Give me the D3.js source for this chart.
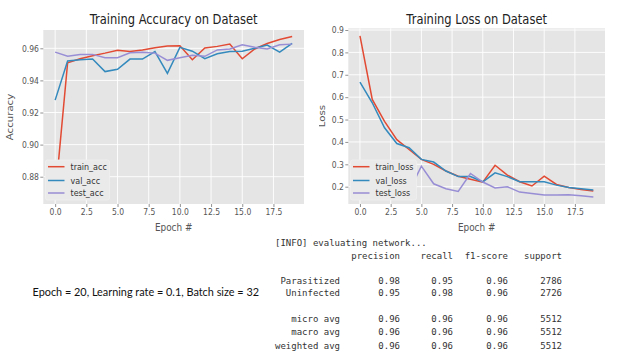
<!DOCTYPE html>
<html><head><meta charset="utf-8">
<script src="https://cdn.jsdelivr.net/npm/d3@7"></script>
<style>body{margin:0;background:#fff}svg{display:block}</style>
</head><body>
<svg id="c" width="638" height="359"></svg>
<script>
// ---------- data ----------
const epochs = [0,1,2,3,4,5,6,7,8,9,10,11,12,13,14,15,16,17,18,19];
const trainAcc = [0.867,0.951,0.9535,0.9554,0.957,0.9588,0.958,0.959,0.9604,0.9614,0.9616,0.9529,0.9602,0.9612,0.9626,0.9535,0.9596,0.963,0.9655,0.9673];
const valAcc   = [0.9277,0.9521,0.9529,0.9533,0.9455,0.9469,0.9533,0.9533,0.958,0.9444,0.9606,0.9582,0.9535,0.9566,0.958,0.9582,0.96,0.962,0.9576,0.963];
const testAcc  = [0.9576,0.955,0.9562,0.9562,0.9541,0.9541,0.9572,0.9576,0.957,0.9525,0.9541,0.9556,0.955,0.959,0.9596,0.9622,0.9606,0.9596,0.9622,0.9626];
const trainLoss = [0.874,0.59,0.492,0.41,0.366,0.322,0.30,0.27,0.247,0.233,0.22,0.296,0.252,0.222,0.203,0.247,0.21,0.196,0.188,0.181];
const valLoss   = [0.667,0.575,0.463,0.393,0.374,0.322,0.31,0.27,0.245,0.245,0.222,0.262,0.245,0.222,0.222,0.222,0.207,0.196,0.191,0.185];
const testLoss  = [0.23,0.21,0.2,0.19,0.18,0.292,0.213,0.191,0.179,0.259,0.221,0.194,0.2,0.176,0.17,0.163,0.163,0.164,0.16,0.154];
const xTicks = [0,2.5,5,7.5,10,12.5,15,17.5];
const accTicks = [0.88,0.90,0.92,0.94,0.96];
const lossTicks = [0.2,0.3,0.4,0.5,0.6,0.7,0.8,0.9];
const accNames = ["train_acc","val_acc","test_acc"];
const lossNames = ["train_loss","val_loss","test_loss"];
const colors = ["#E24A33","#348ABD","#988ED5"];

const reportTitle = "[INFO] evaluating network...";
const reportCols = ["precision","recall","f1-score","support"];
const reportRows = ["Parasitized","Uninfected","micro avg","macro avg","weighted avg"];
const precisionVals = ["0.98","0.95","0.96","0.96","0.96"];
const recallVals    = ["0.95","0.98","0.96","0.96","0.96"];
const f1Vals        = ["0.96","0.96","0.96","0.96","0.96"];
const supportVals   = ["2786","2726","5512","5512","5512"];
const noteText = "Epoch = 20, Learning rate = 0.1, Batch size = 32";

// ---------- drawing ----------
const svg = d3.select("#c");
const SX = 0.87;
const FONT = "DejaVu Sans, sans-serif";
const defs = svg.append("defs");
defs.append("clipPath").attr("id","rclip").append("rect").attr("x",319).attr("y",0).attr("width",320).attr("height",359);

function panel(cfg){
  const g = svg.append("g").attr("clip-path", cfg.clip ? "url(#rclip)" : null);
  const x = d3.scaleLinear().domain([-0.95,19.95]).range([cfg.x0,cfg.x1]);
  const y = d3.scaleLinear().domain(cfg.yDomain).range([204,cfg.yTop]);
  g.append("rect").attr("x",cfg.x0).attr("y",cfg.yTop).attr("width",cfg.x1-cfg.x0).attr("height",204-cfg.yTop).attr("fill","#E5E5E5");
  g.selectAll(".vg").data(xTicks).join("line").attr("x1",d=>x(d)).attr("x2",d=>x(d)).attr("y1",cfg.yTop).attr("y2",204).attr("stroke","#fff").attr("stroke-width",0.9);
  g.selectAll(".hg").data(cfg.yTicks).join("line").attr("y1",d=>y(d)).attr("y2",d=>y(d)).attr("x1",cfg.x0).attr("x2",cfg.x1).attr("stroke","#fff").attr("stroke-width",0.9);

  const ax = g.append("g").attr("transform","translate(0,204)")
    .call(d3.axisBottom(x).tickValues(xTicks).tickFormat(d3.format(".1f")).tickSize(3).tickPadding(2));
  const ay = g.append("g").attr("transform",`translate(${cfg.x0},0)`)
    .call(d3.axisLeft(y).tickValues(cfg.yTicks).tickFormat(cfg.yFmt).tickSize(3).tickPadding(2));
  [ax,ay].forEach(a=>{
    a.select(".domain").remove();
    a.selectAll(".tick line").attr("stroke","#777").attr("stroke-width",0.8);
    a.selectAll(".tick text").attr("fill","#555").attr("font-size","8.8px").attr("font-family",FONT)
      .attr("transform",`scale(${SX},1)`);
  });

  const line = d3.line().x((d,i)=>x(epochs[i])).y(d=>y(d));
  cfg.series.forEach((s,k)=>{
    g.append("path").datum(s).attr("d",line).attr("fill","none").attr("stroke",colors[k]).attr("stroke-width",1.5);
  });

  // legend
  const lg = g.append("g");
  lg.append("rect").attr("x",cfg.lx).attr("y",160).attr("width",cfg.lw).attr("height",40).attr("rx",2)
    .attr("fill","#EAEAEA").attr("stroke","#F0F0F0").attr("stroke-width",0.8);
  const ly = [166.7,180.5,193];
  cfg.names.forEach((n,k)=>{
    lg.append("line").attr("x1",cfg.lx+2.5).attr("x2",cfg.lx+19).attr("y1",ly[k]).attr("y2",ly[k]).attr("stroke",colors[k]).attr("stroke-width",1.5);
    lg.append("text").attr("transform",`translate(${cfg.lx+25},${ly[k]+3.2}) scale(${SX},1)`)
      .attr("font-family",FONT).attr("font-size","9.2px").attr("fill","#333").text(n);
  });

  const cx = (cfg.x0+cfg.x1)/2;
  g.append("text").attr("transform",`translate(${cx},24) scale(${SX},1)`).attr("text-anchor","middle")
    .attr("font-family",FONT).attr("font-size","13.2px").attr("fill","#222").text(cfg.title);
  g.append("text").attr("transform",`translate(${cx},231) scale(${SX},1)`).attr("text-anchor","middle")
    .attr("font-family",FONT).attr("font-size","10.2px").attr("fill","#555").text("Epoch #");
  g.append("text").attr("transform",`translate(${cfg.ylx},${(cfg.yTop+204)/2}) rotate(-90) scale(1,${SX})`).attr("text-anchor","middle")
    .attr("dy","0.35em").attr("font-family",FONT).attr("font-size","10.2px").attr("fill","#555").text(cfg.ylabel);
}

panel({x0:43.3,x1:304,yTop:30,yDomain:[0.863,0.9714],yTicks:accTicks,yFmt:d3.format(".2f"),
  series:[trainAcc,valAcc,testAcc],names:accNames,lx:45.5,lw:64,title:"Training Accuracy on Dataset",ylabel:"Accuracy",ylx:10});
panel({x0:348.3,x1:605,yTop:28.3,yDomain:[0.1227,0.9076],yTicks:lossTicks,yFmt:d3.format(".1f"),
  series:[trainLoss,valLoss,testLoss],names:lossNames,lx:350.5,lw:66,title:"Training Loss on Dataset",ylabel:"Loss",ylx:321.5,clip:true});

// classification report
const MONO = "DejaVu Sans Mono, Liberation Mono, monospace";
const rep = svg.append("g").attr("font-family",MONO).attr("font-size","9px").attr("fill","#333");
rep.append("text").attr("x",275).attr("y",246).text(reportTitle);
const colEnds = [400,453,508,562];
reportCols.forEach((c,i)=>rep.append("text").attr("x",colEnds[i]).attr("y",258.5).attr("text-anchor","end").text(c));
const rowY = [283.7,296.3,322.3,335,348.7];
const cols = [precisionVals,recallVals,f1Vals,supportVals];
reportRows.forEach((r,j)=>{
  rep.append("text").attr("x",340).attr("y",rowY[j]).attr("text-anchor","end").text(r);
  cols.forEach((arr,i)=>rep.append("text").attr("x",colEnds[i]).attr("y",rowY[j]).attr("text-anchor","end").text(arr[j]));
});

svg.append("text").attr("x",32.5).attr("y",296).attr("font-family","Lato, Open Sans, sans-serif").attr("font-size","11.5px")
  .attr("fill","#111").attr("textLength",226.5).attr("lengthAdjust","spacingAndGlyphs").text(noteText);
</script>
</body></html>
